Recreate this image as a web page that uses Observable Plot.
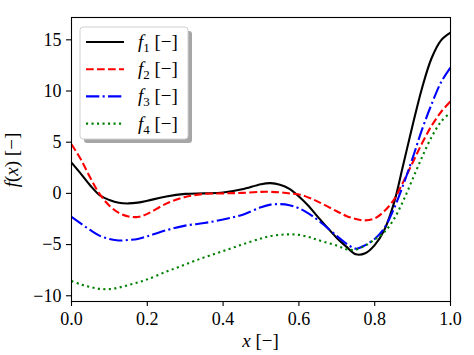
<!DOCTYPE html>
<html><head><meta charset="utf-8">
<script src="https://cdn.jsdelivr.net/npm/d3@7"></script>
<script src="https://cdn.jsdelivr.net/npm/@observablehq/plot@0.6"></script>
<style>html,body{margin:0;padding:0;background:#fff}</style>
</head><body><div id="chart"></div>
<script>
const xs = [0, 0.025, 0.05, 0.075, 0.1, 0.125, 0.15, 0.175, 0.2, 0.25, 0.3, 0.35, 0.4, 0.45, 0.5, 0.525, 0.55, 0.575, 0.6, 0.625, 0.65, 0.7, 0.725, 0.75, 0.775, 0.8, 0.825, 0.85, 0.875, 0.9, 0.925, 0.95, 0.975, 1.0];
const f1 = [3.0, 1.9, 0.75, -0.2, -0.65, -0.92, -0.98, -0.9, -0.72, -0.3, -0.05, 0.0, 0.08, 0.4, 0.9, 1.0, 0.85, 0.45, -0.3, -1.2, -2.3, -4.35, -5.2, -5.95, -5.85, -5.05, -3.6, -1.05, 2.75, 6.65, 10.3, 13.2, 14.95, 15.7];
const f2 = [4.8, 3.3, 1.5, -0.1, -1.2, -1.9, -2.25, -2.3, -2.0, -1.0, -0.35, -0.05, 0.0, 0.05, 0.15, 0.15, 0.1, 0.0, -0.1, -0.4, -0.8, -1.75, -2.2, -2.5, -2.64, -2.45, -1.75, -0.65, 1.1, 3.0, 4.9, 6.6, 7.95, 9.0];
const f3 = [-2.3, -2.95, -3.6, -4.15, -4.45, -4.6, -4.55, -4.45, -4.2, -3.6, -3.15, -2.9, -2.55, -2.1, -1.35, -1.1, -1.05, -1.15, -1.45, -1.95, -2.6, -4.15, -4.9, -5.4, -5.05, -4.45, -3.4, -1.55, 0.8, 3.45, 6.25, 8.7, 10.85, 12.3];
const f4 = [-8.55, -8.9, -9.15, -9.33, -9.35, -9.2, -8.95, -8.7, -8.4, -7.65, -6.95, -6.25, -5.63, -5.0, -4.4, -4.17, -4.05, -4.0, -4.05, -4.25, -4.55, -5.1, -5.45, -5.5, -5.1, -4.5, -3.8, -2.55, -0.75, 1.4, 3.55, 5.5, 7.0, 7.9];
const seriesIds = ["1", "2", "3", "4"];
const xTicks = [0, 0.2, 0.4, 0.6, 0.8, 1.0];
const yTicks = [-10, -5, 0, 5, 10, 15];

// styles (kept apart from data)
const colors = {"1": "#000000", "2": "#ff0000", "3": "#0000ff", "4": "#008000"};
const dashes = {"1": null, "2": "7.7,3.3", "3": "13.3,3.3,2.1,3.3", "4": "2.1,3.4"};

const allSeries = [f1, f2, f3, f4];
const data = [];
seriesIds.forEach((id, i) => xs.forEach((x, j) => data.push({series: id, x, y: allSeries[i][j]})));

const minus = d => (d < 0 ? "\u2212" + Math.abs(d) : String(d));
const FONT = "Liberation Serif";

const chart = Plot.plot({
  width: 474, height: 355,
  marginLeft: 71, marginRight: 24, marginTop: 17, marginBottom: 54,
  style: {fontFamily: FONT, fontSize: "18px", background: "#fff", color: "#000", overflow: "visible"},
  x: {domain: [0, 1]},
  y: {domain: [-10.56, 17.18]},
  marks: [
    ...seriesIds.map(id => Plot.line(data.filter(d => d.series === id), {
      x: "x", y: "y", stroke: colors[id], strokeWidth: 2.1,
      strokeDasharray: dashes[id], strokeLinecap: "butt", strokeLinejoin: "round", curve: "catmull-rom"
    })),
    Plot.axisX({ticks: xTicks, tickFormat: d3.format(".1f"), tickSize: 5, tickPadding: 6, label: null, strokeWidth: 1.1}),
    Plot.axisY({ticks: yTicks, tickFormat: minus, tickSize: 5, tickPadding: 5, label: null, strokeWidth: 1.1}),
    Plot.frame({stroke: "#000", strokeWidth: 1.1})
  ]
});
document.getElementById("chart").appendChild(chart);

const svg = d3.select(chart);
// axis labels
const xl = svg.append("text").attr("x", 260.5).attr("y", 347).attr("text-anchor", "middle")
  .attr("font-family", FONT).attr("font-size", 19).attr("fill", "#000");
xl.append("tspan").attr("font-style", "italic").text("x");
xl.append("tspan").text(" [\u2212]");

const yl = svg.append("text").attr("transform", "translate(18,160) rotate(-90)").attr("text-anchor", "middle")
  .attr("font-family", FONT).attr("font-size", 19).attr("fill", "#000");
yl.append("tspan").attr("font-style", "italic").text("f");
yl.append("tspan").text("(");
yl.append("tspan").attr("font-style", "italic").text("x");
yl.append("tspan").text(") [\u2212]");

// legend
const lg = svg.append("g");
lg.append("rect").attr("x", 84).attr("y", 31).attr("width", 108).attr("height", 112).attr("rx", 3)
  .attr("fill", "#000").attr("fill-opacity", 0.35);
lg.append("rect").attr("x", 80).attr("y", 27).attr("width", 108).attr("height", 112).attr("rx", 3)
  .attr("fill", "#fff").attr("stroke", "#d0d0d0").attr("stroke-width", 1);
seriesIds.forEach((id, i) => {
  const yy = 42 + i * 27.2;
  lg.append("line").attr("x1", 86).attr("x2", 124).attr("y1", yy).attr("y2", yy)
    .attr("stroke", colors[id]).attr("stroke-width", 2.1).attr("stroke-linecap", "butt")
    .attr("stroke-dasharray", dashes[id]);
  const t = lg.append("text").attr("x", 138).attr("y", yy + 6).attr("text-anchor", "start")
    .attr("font-family", FONT).attr("font-size", 19).attr("fill", "#000");
  t.append("tspan").attr("font-style", "italic").text("f");
  t.append("tspan").attr("font-size", 13).attr("dy", 4).text(id);
  t.append("tspan").attr("dy", -4).text(" [\u2212]");
});
</script>
</body></html>
